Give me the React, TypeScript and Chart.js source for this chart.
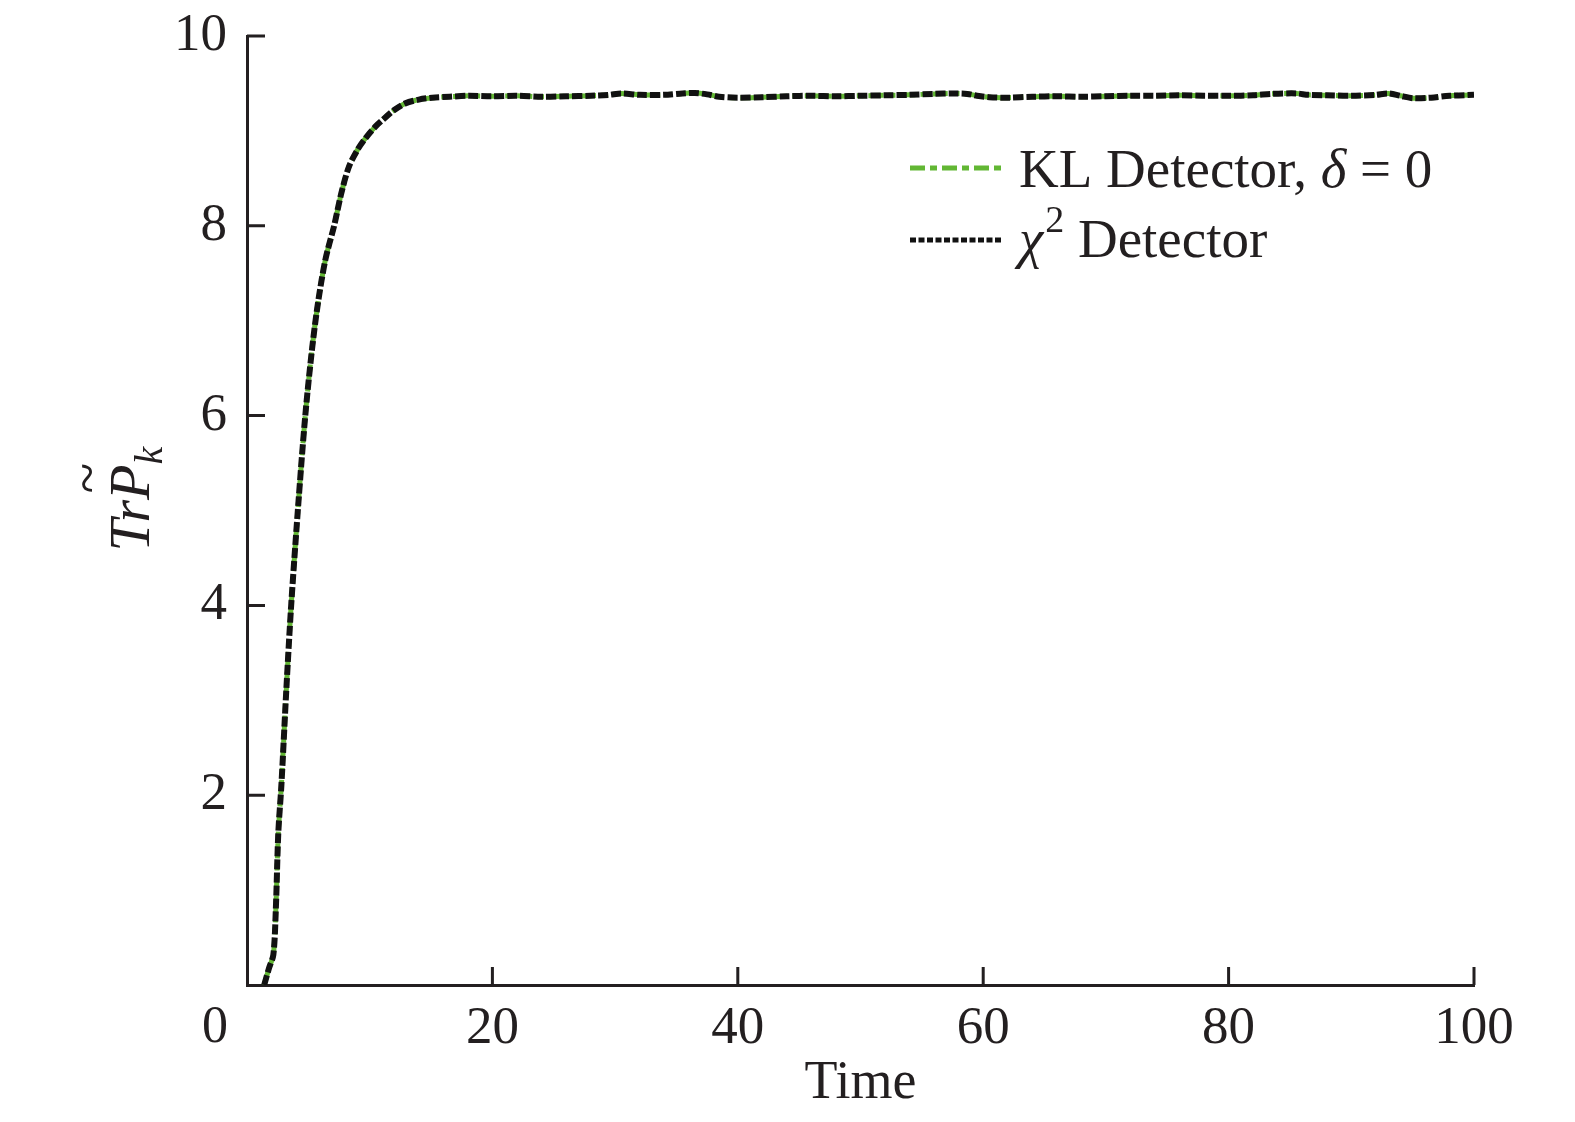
import { useEffect, useRef } from "react";
import { Chart, registerables } from "chart.js";

Chart.register(...registerables);

// sampled time steps (denser where the curve climbs)
const timeSteps = [
  1.4, 1.8, 2.15, 2.35, 2.55, 2.8, 3.2, 3.6, 4.2, 4.75, 5.3, 5.8, 6.4, 7.1, 7.7,
  8.3, 9.0, 9.7, 10.5, 11.0, 12.0, 12.9, 14.0, 15.1, 16.5, 18, 20, 22, 24, 26,
  28, 29.5, 30.5, 32, 34, 35.5, 36.5, 37.5, 38.5, 40, 42, 44, 46, 48, 50, 52,
  54, 56, 57.5, 58.7, 59.5, 60.5, 62, 64, 66, 68, 70, 72, 74, 76, 78, 80, 82,
  83.5, 85.5, 86.5, 88, 90, 92, 93, 94, 95, 96.5, 98, 100,
];

const klValues = [
  0, 0.18, 0.32, 0.8, 1.6, 2.1, 3.1, 4.0, 5.1, 6.0, 6.7, 7.2, 7.65, 8.0, 8.35,
  8.62, 8.8, 8.93, 9.05, 9.11, 9.22, 9.29, 9.33, 9.35, 9.36, 9.37, 9.365, 9.37,
  9.36, 9.365, 9.37, 9.38, 9.395, 9.38, 9.38, 9.395, 9.4, 9.385, 9.36, 9.35,
  9.355, 9.365, 9.37, 9.365, 9.37, 9.375, 9.38, 9.39, 9.395, 9.39, 9.37, 9.355,
  9.35, 9.36, 9.365, 9.36, 9.365, 9.37, 9.37, 9.375, 9.37, 9.37, 9.375, 9.39,
  9.395, 9.38, 9.375, 9.37, 9.38, 9.395, 9.37, 9.345, 9.35, 9.37, 9.38,
];

const chiValues = [
  0, 0.18, 0.32, 0.8, 1.6, 2.1, 3.1, 4.0, 5.1, 6.0, 6.7, 7.2, 7.65, 8.0, 8.35,
  8.62, 8.8, 8.93, 9.05, 9.11, 9.22, 9.29, 9.33, 9.35, 9.36, 9.37, 9.365, 9.37,
  9.36, 9.365, 9.37, 9.38, 9.395, 9.38, 9.38, 9.395, 9.4, 9.385, 9.36, 9.35,
  9.355, 9.365, 9.37, 9.365, 9.37, 9.375, 9.38, 9.39, 9.395, 9.39, 9.37, 9.355,
  9.35, 9.36, 9.365, 9.36, 9.365, 9.37, 9.37, 9.375, 9.37, 9.37, 9.375, 9.39,
  9.395, 9.38, 9.375, 9.37, 9.38, 9.395, 9.37, 9.345, 9.35, 9.37, 9.38,
];

const xTicks = [0, 20, 40, 60, 80, 100];
const yTicks = [0, 2, 4, 6, 8, 10];

const INK = "#231f20";
const GREEN = "#62b734";
const BLACK = "#111111";
const SERIF = '"Liberation Serif", "Times New Roman", serif';
const KL_DASH = [15, 5, 7, 5];
const CHI_DASH = [10, 3];

// inward ticks, the lone origin "0", axis title and the legend
const decorPlugin = {
  id: "decor",
  afterDraw(chart: Chart) {
    const { ctx, chartArea } = chart;
    const xs = chart.scales.x;
    const ys = chart.scales.y;
    ctx.save();
    ctx.strokeStyle = INK;
    ctx.lineWidth = 3;
    ctx.beginPath();
    xTicks.slice(1).forEach((v) => {
      const px = xs.getPixelForValue(v);
      ctx.moveTo(px, chartArea.bottom);
      ctx.lineTo(px, chartArea.bottom - 18);
    });
    yTicks.slice(1).forEach((v) => {
      const py = ys.getPixelForValue(v);
      ctx.moveTo(chartArea.left, py);
      ctx.lineTo(chartArea.left + 18, py);
    });
    ctx.stroke();

    ctx.fillStyle = INK;
    ctx.font = `52px ${SERIF}`;
    ctx.textAlign = "center";
    ctx.textBaseline = "middle";
    ctx.fillText("0", chartArea.left - 32, chartArea.bottom + 43);

    // y axis title: Tr P~ _k
    ctx.save();
    ctx.translate(chartArea.left - 117, 495);
    ctx.rotate(-Math.PI / 2);
    ctx.textAlign = "left";
    ctx.textBaseline = "alphabetic";
    ctx.font = `italic 58px ${SERIF}`;
    const trW = ctx.measureText("Tr").width;
    const pW = ctx.measureText("P").width;
    const total = trW + pW + 26;
    let cx = -total / 2;
    ctx.fillText("Tr", cx, 19);
    cx += trW;
    ctx.fillText("P", cx, 19);
    ctx.font = `56px ${SERIF}`;
    ctx.textAlign = "center";
    ctx.fillText("~", cx + pW / 2 + 4, -24);
    ctx.textAlign = "left";
    ctx.font = `italic 40px ${SERIF}`;
    ctx.fillText("k", cx + pW, 32);
    ctx.restore();

    // legend
    const lx = chartArea.left + 663;
    const tx = lx + 109;
    const rows = [
      { y: chartArea.top + 132, color: GREEN, dash: KL_DASH },
      { y: chartArea.top + 204, color: BLACK, dash: [6, 2.5] },
    ];
    rows.forEach((r) => {
      ctx.save();
      ctx.strokeStyle = r.color;
      ctx.lineWidth = 5;
      ctx.setLineDash(r.dash);
      ctx.beginPath();
      ctx.moveTo(lx, r.y);
      ctx.lineTo(lx + 92, r.y);
      ctx.stroke();
      ctx.restore();
    });
    ctx.textAlign = "left";
    ctx.textBaseline = "alphabetic";
    let px = tx;
    const b1 = rows[0].y + 19;
    ctx.font = `55px ${SERIF}`;
    ctx.fillText("KL Detector, ", px, b1);
    px += ctx.measureText("KL Detector, ").width;
    ctx.font = `italic 55px ${SERIF}`;
    ctx.fillText("δ", px, b1);
    px += ctx.measureText("δ").width;
    ctx.font = `55px ${SERIF}`;
    ctx.fillText(" = 0", px, b1);

    px = tx;
    const b2 = rows[1].y + 17;
    ctx.font = `italic 55px ${SERIF}`;
    ctx.fillText("χ", px, b2);
    px += ctx.measureText("χ").width + 2;
    ctx.font = `38px ${SERIF}`;
    ctx.fillText("2", px, b2 - 25);
    px += ctx.measureText("2").width;
    ctx.font = `55px ${SERIF}`;
    ctx.fillText(" Detector", px, b2);
    ctx.restore();
  },
};

const App = () => {
  const canvasRef = useRef<HTMLCanvasElement | null>(null);
  const chartRef = useRef<Chart | null>(null);

  useEffect(() => {
    if (!canvasRef.current) return;
    if (chartRef.current) chartRef.current.destroy();

    chartRef.current = new Chart(canvasRef.current, {
      type: "line",
      data: {
        datasets: [
          {
            label: "KL Detector, δ = 0",
            data: timeSteps.map((t, i) => ({ x: t, y: klValues[i] })),
            borderColor: GREEN,
            borderWidth: 5,
            borderDash: KL_DASH,
            pointRadius: 0,
            tension: 0.3,
            order: 2,
          },
          {
            label: "χ² Detector",
            data: timeSteps.map((t, i) => ({ x: t, y: chiValues[i] })),
            borderColor: BLACK,
            borderWidth: 6,
            borderDash: CHI_DASH,
            pointRadius: 0,
            tension: 0.3,
            order: 1,
          },
        ],
      },
      options: {
        animation: false,
        responsive: true,
        maintainAspectRatio: false,
        layout: { padding: { top: 36, right: 101, left: 0, bottom: 0 } },
        plugins: {
          legend: { display: false },
          tooltip: { enabled: false },
        },
        scales: {
          x: {
            type: "linear",
            min: 0,
            max: 100,
            afterFit: (s: any) => {
              s.height = 137;
            },
            afterBuildTicks: (s: any) => {
              s.ticks = xTicks.map((v) => ({ value: v }));
            },
            ticks: {
              padding: 12,
              color: INK,
              font: { family: SERIF, size: 53 },
              maxRotation: 0,
              callback: (v: any) => (v === 0 ? "" : String(v)),
            },
            grid: { display: true, drawOnChartArea: false, drawTicks: false },
            border: { display: true, color: INK, width: 3 },
            title: {
              display: true,
              text: "Time",
              color: INK,
              font: { family: SERIF, size: 54 },
              padding: { top: 0, bottom: 6 },
            },
          },
          y: {
            type: "linear",
            min: 0,
            max: 10,
            afterFit: (s: any) => {
              s.width = 247;
            },
            afterBuildTicks: (s: any) => {
              s.ticks = yTicks.map((v) => ({ value: v }));
            },
            ticks: {
              padding: 20,
              color: INK,
              font: { family: SERIF, size: 53, lineHeight: 0.6 },
              callback: (v: any) => (v === 0 ? "" : String(v)),
            },
            grid: { display: true, drawOnChartArea: false, drawTicks: false },
            border: { display: true, color: INK, width: 3 },
          },
        },
      },
      plugins: [decorPlugin],
    });

    return () => {
      if (chartRef.current) {
        chartRef.current.destroy();
        chartRef.current = null;
      }
    };
  }, []);

  return (
    <div style={{ position: "fixed", left: 0, top: 0, width: "1575px", height: "1122px", background: "#fff" }}>
      <canvas ref={canvasRef} />
    </div>
  );
};

export default App;
